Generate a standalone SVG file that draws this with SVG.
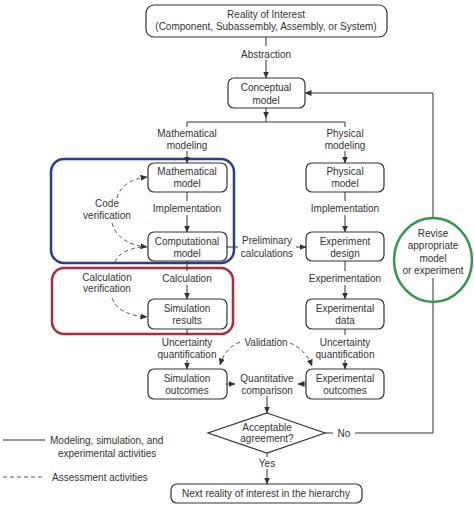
<svg xmlns="http://www.w3.org/2000/svg" width="474" height="509" viewBox="0 0 474 509">
<style>
text{font-family:"Liberation Sans",Arial,sans-serif;font-size:10px;fill:#333;text-anchor:middle}
.b{fill:#fff;stroke:#333;stroke-width:1.2}
.c{fill:none;stroke:#333;stroke-width:1}
.d{fill:none;stroke:#555;stroke-width:1;stroke-dasharray:4,3}
</style>
<defs>
<marker id="a" markerWidth="7" markerHeight="6" refX="6.5" refY="3" orient="auto" markerUnits="userSpaceOnUse"><path d="M0,0L7,3L0,6z" fill="#333"/></marker>
</defs>
<rect width="474" height="509" fill="#fff"/>
<g id="groups">
<rect x="51" y="159" width="183" height="104" rx="13" fill="none" stroke="#2e3a8c" stroke-width="2.5"/>
<rect x="52" y="268" width="181" height="66" rx="12" fill="none" stroke="#b0283a" stroke-width="2.5"/>
</g>
<g id="connectors">
<path class="c" d="M266,37V46M266,60V78" marker-end="url(#a)"/>
<path class="c" d="M266,108V118" marker-end="url(#a)"/>
<path class="c" d="M266,118V122M187,127V122H345V127"/>
<path class="c" d="M187,151V163" marker-end="url(#a)"/>
<path class="c" d="M345,151V163" marker-end="url(#a)"/>
<path class="c" d="M187,192V201M187,215V232" marker-end="url(#a)"/>
<path class="c" d="M345,192V201M345,215V232" marker-end="url(#a)"/>
<path class="c" d="M187,261V271M187,285V299" marker-end="url(#a)"/>
<path class="c" d="M345,261V271M345,285V299" marker-end="url(#a)"/>
<path class="c" d="M187,329V335M187,360V369" marker-end="url(#a)"/>
<path class="c" d="M345,329V335M345,360V369" marker-end="url(#a)"/>
<path class="c" d="M227,247H238M296,247H306" marker-end="url(#a)"/>
<path class="c" d="M227,384H235" marker-end="url(#a)"/>
<path class="c" d="M306,384H298" marker-end="url(#a)"/>
<path class="c" d="M267,396V413" marker-end="url(#a)"/>
<path class="c" d="M267,453V457M267,469V484" marker-end="url(#a)"/>
<path class="c" d="M325,433H333M355,433H433V278M433,218V93H305" marker-end="url(#a)"/>
<path class="d" d="M117,198Q122,180 147,177" marker-end="url(#a)"/>
<path class="d" d="M112,223Q118,244 147,247" marker-end="url(#a)"/>
<path class="d" d="M115,262Q120,250 141,247"/>
<path class="d" d="M112,298Q118,315 147,317" marker-end="url(#a)"/>
<path class="d" d="M240,342Q225,348 220,365" marker-end="url(#a)"/>
<path class="d" d="M290,343Q306,350 312,366" marker-end="url(#a)"/>
</g>
<g id="reality">
<rect class="b" x="146" y="5" width="241" height="32" rx="8"/>
<text x="266" y="18">Reality of Interest</text>
<text x="266" y="30">(Component, Subassembly, Assembly, or System)</text>
</g>
<g id="conceptual">
<rect class="b" x="228" y="78" width="77" height="30" rx="6"/>
<text x="266" y="91">Conceptual</text>
<text x="266" y="104">model</text>
</g>
<g id="math">
<rect class="b" x="148" y="163" width="79" height="29" rx="6"/>
<text x="187" y="175">Mathematical</text>
<text x="187" y="187">model</text>
</g>
<g id="comp">
<rect class="b" x="148" y="232" width="79" height="29" rx="6"/>
<text x="187" y="245">Computational</text>
<text x="187" y="257">model</text>
</g>
<g id="simres">
<rect class="b" x="148" y="299" width="79" height="30" rx="6"/>
<text x="187" y="312">Simulation</text>
<text x="187" y="324">results</text>
</g>
<g id="physmodel">
<rect class="b" x="306" y="163" width="78" height="29" rx="6"/>
<text x="345" y="175">Physical</text>
<text x="345" y="187">model</text>
</g>
<g id="expdesign">
<rect class="b" x="306" y="232" width="78" height="29" rx="6"/>
<text x="345" y="245">Experiment</text>
<text x="345" y="257">design</text>
</g>
<g id="expdata">
<rect class="b" x="306" y="299" width="78" height="30" rx="6"/>
<text x="345" y="312">Experimental</text>
<text x="345" y="324">data</text>
</g>
<g id="simout">
<rect class="b" x="148" y="369" width="79" height="30" rx="6"/>
<text x="187" y="382">Simulation</text>
<text x="187" y="394">outcomes</text>
</g>
<g id="expout">
<rect class="b" x="306" y="369" width="78" height="30" rx="6"/>
<text x="345" y="382">Experimental</text>
<text x="345" y="394">outcomes</text>
</g>
<g id="decision">
<path class="b" d="M267,413L325,433L267,453L208,433Z"/>
<text x="267" y="431">Acceptable</text>
<text x="267" y="442">agreement?</text>
</g>
<g id="next">
<rect class="b" x="171" y="484" width="191" height="19" rx="6"/>
<text x="266" y="497">Next reality of interest in the hierarchy</text>
</g>
<g id="revise">
<ellipse cx="433" cy="260" rx="39" ry="42" fill="none" stroke="#2e9a4e" stroke-width="2.5"/>
<text x="433" y="237">Revise</text>
<text x="433" y="249">appropriate</text>
<text x="433" y="262">model</text>
<text x="433" y="274">or experiment</text>
</g>
<g id="labels">
<text x="266" y="58">Abstraction</text>
<text x="187" y="137">Mathematical</text>
<text x="187" y="149">modeling</text>
<text x="345" y="137">Physical</text>
<text x="345" y="149">modeling</text>
<text x="187" y="212">Implementation</text>
<text x="345" y="212">Implementation</text>
<text x="107" y="207">Code</text>
<text x="107" y="219">verification</text>
<text x="267" y="244">Preliminary</text>
<text x="267" y="257">calculations</text>
<text x="187" y="282">Calculation</text>
<text x="345" y="282">Experimentation</text>
<text x="107" y="281">Calculation</text>
<text x="107" y="292">verification</text>
<text x="187" y="346">Uncertainty</text>
<text x="187" y="358">quantification</text>
<text x="345" y="346">Uncertainty</text>
<text x="345" y="358">quantification</text>
<text x="266" y="346">Validation</text>
<text x="267" y="382">Quantitative</text>
<text x="267" y="394">comparison</text>
<text x="344" y="437">No</text>
<text x="267" y="467">Yes</text>
</g>
<g id="legend">
<path class="c" d="M3,440H45"/>
<path class="d" d="M3,477H45" stroke="#333"/>
<text x="50" y="444" style="text-anchor:start">Modeling, simulation, and</text>
<text x="58" y="457" style="text-anchor:start">experimental activities</text>
<text x="52" y="481" style="text-anchor:start">Assessment activities</text>
</g>
</svg>
